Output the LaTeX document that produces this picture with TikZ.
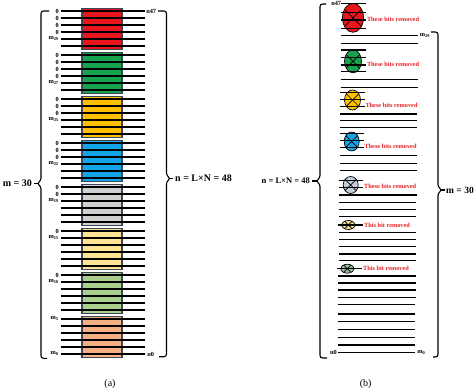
\documentclass[tikz,border=0pt]{standalone}
\usepackage{fontspec}
\setmainfont{Liberation Serif}
\usetikzlibrary{shapes.geometric}
\definecolor{cRed}{RGB}{232,22,28}
\definecolor{cGreen}{RGB}{22,163,78}
\definecolor{cYellow}{RGB}{255,192,0}
\definecolor{cBlue}{RGB}{20,164,232}
\definecolor{cGrey}{RGB}{208,208,208}
\definecolor{cLYellow}{RGB}{255,228,150}
\definecolor{cLGreen}{RGB}{168,208,140}
\definecolor{cOrange}{RGB}{244,176,130}
\definecolor{eGrey}{RGB}{196,204,218}
\definecolor{eLYellow}{RGB}{240,226,150}
\definecolor{eLGreen}{RGB}{150,190,160}
\definecolor{boxline}{RGB}{60,70,88}
\definecolor{remred}{RGB}{232,30,36}
\tikzset{
  bitline/.style={line width=1.25pt, black},
  blockbox/.style={draw=boxline, line width=1.1pt},
  smalllab/.style={font=\fontsize{6.3}{6.3}\selectfont\bfseries, inner sep=0.6pt},
  bracket/.style={line width=1.1pt, black, rounded corners=2.5pt},
  remlab/.style={font=\fontsize{6.3}{6.3}\selectfont\bfseries, text=remred, inner sep=0pt, anchor=west},
  sizelab/.style={font=\fontsize{10}{10}\selectfont\bfseries, inner sep=1pt},
  caption/.style={font=\fontsize{10}{10}\selectfont, inner sep=0pt},
  xbit/.style={ellipse, draw=black, line width=0.7pt, inner sep=0pt, outer sep=0pt},
  xcross/.style={line width=0.7pt, black},
}
\begin{document}
\begin{tikzpicture}[x=1pt,y=-1pt]
\useasboundingbox (0,0) rectangle (474,391);

% ---------------- (a) ----------------
\foreach \c [count=\k from 0] in {cRed,cGreen,cYellow,cBlue,cGrey,cLYellow,cLGreen,cOrange} {
  \pgfmathsetmacro\tp{11+44*\k}
  \filldraw[blockbox, fill=\c] (82,\tp-2.5) rectangle (122,\tp+38.5);
}
\foreach \k in {0,...,7} {
  \foreach \i in {0,...,5} {
    \draw[bitline] (60.5,{11+44*\k+7*\i}) -- (145,{11+44*\k+7*\i});
  }
}
\foreach \y/\t [count=\n] in {11/0,18/0,25/0,32/0,39/{m\textsubscript{29}},
  55/0,62/0,69/0,76/0,83/{m\textsubscript{27}},
  99/0,106/0,113/0,120/{m\textsubscript{25}},
  143/0,150/0,157/0,164/{m\textsubscript{22}},
  187/0,194/0,201/{m\textsubscript{19}},
  231/0,238/{m\textsubscript{15}},
  275/0,282/{m\textsubscript{10}},
  319/{m\textsubscript{5}},354/{m\textsubscript{0}}}
  \node[smalllab, anchor=east] (la\n) at (59.5,\y) {\t};
\node[smalllab, anchor=west] (na47) at (145.5,11) {n47};
\node[smalllab, anchor=west] (na0) at (146.5,354) {n0};
% left bracket (a)
\draw[bracket] (49,11) -- (41,11) -- (41,180.5) -- (37,183.5) -- (41,186.5) -- (41,358.3) -- (47,358.3);
\draw[line width=1.1pt] (38,183.5) -- (33.5,183.5);
\node[sizelab, anchor=east] (mA) at (33,183.5) {m = 30};
% right bracket (a)
\draw[bracket] (158,11) -- (166.5,11) -- (166.5,175.5) -- (170.5,178.5) -- (166.5,181.5) -- (166.5,356.7) -- (159,356.7);
\draw[line width=1.1pt] (169.5,178.5) -- (173,178.5);
\node[sizelab, anchor=west] (nA) at (174,178.5) {n = L×N = 48};
\node[caption] (capA) at (110,384) {(a)};

% ---------------- (b) ----------------
% kept lines
\foreach \y in {35.7,43.3,79.3,87.3,114,120.7,127.7,155.3,163.3,170.7,
  195,202.3,209.3,216.7,232.3,239.3,246.7,254,260.7,
  276,283,290,297.3,304.3,314,321.7,329.3,337.3,345,352.7} {
  \draw[bitline] ({341.5-4*\y/353},\y) -- ({418.5-3.5*\y/353},\y);
}
% removed groups
\node[xbit, fill=cRed, minimum width=21pt, minimum height=29pt] (eR) at (353,17.8) {};
\node[xbit, fill=cGreen, minimum width=17pt, minimum height=23pt] (eG) at (353,61.3) {};
\node[xbit, fill=cYellow, minimum width=16pt, minimum height=20pt] (eY) at (352.5,100) {};
\node[xbit, fill=cBlue, minimum width=15pt, minimum height=19pt] (eB) at (351.7,141.5) {};
\node[xbit, fill=eGrey, minimum width=15pt, minimum height=17pt] (eS) at (350.7,185) {};
\node[xbit, fill=eLYellow, minimum width=13pt, minimum height=9pt] (eLY) at (348.3,225) {};
\node[xbit, fill=eLGreen, minimum width=13pt, minimum height=9pt] (eLG) at (347.3,268.7) {};
\foreach \y in {3.3,12.3,20,28.3} \draw[bitline] (341,\y) -- (366,\y);
\foreach \y in {50,57.3,65,71.7} \draw[bitline] (340.5,\y) -- (366,\y);
\foreach \y in {92.7,99.3,106.7} \draw[bitline] (340,\y) -- (364.5,\y);
\foreach \y in {133.3,140.7,147.7} \draw[bitline] (339.5,\y) -- (363.5,\y);
\foreach \y in {180.7,187.3} \draw[bitline] (338.5,\y) -- (363.3,\y);
\draw[bitline] (338.3,225) -- (363.3,225);
\draw[bitline] (336.8,268.7) -- (362.3,268.7);
\foreach \e in {eR,eG,eY,eB,eS,eLY,eLG} {
  \draw[xcross] (\e.135) -- (\e.-45);
  \draw[xcross] (\e.45) -- (\e.-135);
}
\node[remlab] (tR) at (366.8,19) {These bits removed};
\node[remlab] (tG) at (366.8,64) {These bits removed};
\node[remlab] (tY) at (365.3,105.3) {These bits removed};
\node[remlab] (tB) at (364.3,146) {These bits removed};
\node[remlab] (tS) at (364,186.7) {These bits removed};
\node[remlab] (tLY) at (364,225) {This bit removed};
\node[remlab] (tLG) at (363,268.3) {This bit removed};
\node[smalllab, anchor=west] (nb47) at (330.5,3.3) {n47};
\node[smalllab, anchor=west] (mb29) at (419,35.7) {m\textsubscript{29}};
\node[smalllab, anchor=east] (nb0) at (337.5,352.7) {n0};
\node[smalllab, anchor=west] (mb0) at (416.5,352.7) {m\textsubscript{0}};
% left bracket (b)
\draw[bracket] (326,4) -- (320,4) -- (320,178) -- (316,181) -- (320,184) -- (320,358) -- (327,358);
\draw[line width=1.1pt] (317,181) -- (311.5,181);
\node[sizelab, anchor=east, font=\fontsize{8.5}{8.5}\selectfont\bfseries] (nB) at (311,181) {n = L×N = 48};
% right bracket (b)
\draw[bracket] (431,32) -- (438,32) -- (438,187) -- (442,190) -- (438,193) -- (438,357) -- (433,357);
\draw[line width=1.1pt] (441,190) -- (445,190);
\node[sizelab, anchor=west, font=\fontsize{9.5}{9.5}\selectfont\bfseries] (mB) at (445,190) {m = 30};
\node[caption] (capB) at (365.7,384) {(b)};
\end{tikzpicture}
\end{document}
